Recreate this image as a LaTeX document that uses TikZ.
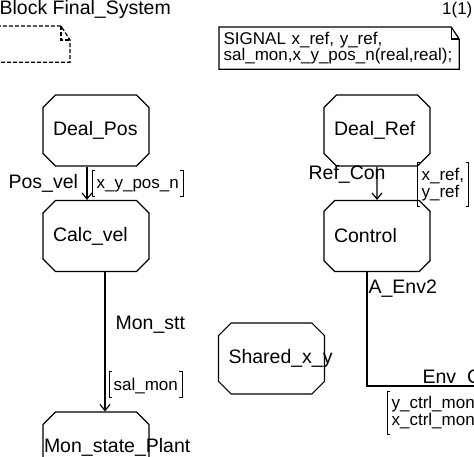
\documentclass[tikz,border=0pt]{standalone}
\usepackage{fontspec}
\setmainfont{Liberation Sans}
\usetikzlibrary{positioning,shapes.misc,arrows.meta}
\newcommand{\blkfont}{\fontsize{19.5}{22}\selectfont}
\newcommand{\sigfont}{\fontsize{17}{16.5}\selectfont}

\begin{document}
\begin{tikzpicture}[x=1pt, y=-1pt, line width=1.2pt,
		% Block styles
		block/.style={chamfered rectangle, chamfered rectangle xsep=10pt, draw=black,
			minimum width=106pt, minimum height=71pt, inner sep=0pt, text width=86pt,
			align=left, font=\blkfont},
		% Channel styles
		channel/.style={-{Straight Barb[length=6pt, width=10pt]}},
		% Text styles
		chlabel/.style={font=\blkfont, inner sep=0pt, anchor=base west},
		siglist/.style={font=\sigfont, inner xsep=4pt, inner ysep=5pt, align=left},
		decl/.style={font=\sigfont, inner xsep=4pt, inner ysep=1pt, align=left, anchor=north west},
		bracket/.style={line width=1pt}
		]
		
		\useasboundingbox (0,0) rectangle (474,457);
		\clip (0,0) rectangle (474,457);
		
		% Header
		\node[chlabel] (title) at (-1,15) {Block Final\_System};
		\node[font=\sigfont, inner sep=0pt, anchor=base east] (page) at (473,15) {1(1)};
		
		% Comment and declaration
		\node[inner sep=0pt, minimum width=90pt, minimum height=35pt, anchor=north east] (comment) at (70,26) {};
		\draw[dash pattern=on 4pt off 2pt] (comment.north west) -- ([xshift=-9pt]comment.north east)
			-- ([yshift=-14pt]comment.north east) -- (comment.south east) -- (comment.south west);
		\draw[dash pattern=on 4pt off 2pt] ([xshift=-9pt]comment.north east) |- ([yshift=-14pt]comment.north east);
		
		\node[decl, text width=231pt, minimum height=41pt] (sigdecl) at (219,27)
			{SIGNAL x\_ref, y\_ref,\\sal\_mon,x\_y\_pos\_n(real,real);};
		\draw (sigdecl.north west) -- ([xshift=-8pt]sigdecl.north east)
			-- ([yshift=-12pt]sigdecl.north east) -- (sigdecl.south east) -- (sigdecl.south west) -- cycle;
		\draw ([xshift=-8pt]sigdecl.north east) |- ([yshift=-12pt]sigdecl.north east);
		
		% Blocks
		\node[block] (dealpos) at (96,130.5) {Deal\_Pos};
		\node[block] (calcvel) at (96,236) {Calc\_vel};
		\node[block] (monstate) at (96,447.5) {\hspace*{-9pt}Mon\_state\_Plant};
		\node[block] (shared) at (271.5,358.5) {Shared\_x\_y};
		\node[block] (dealref) at (377,130.5) {Deal\_Ref};
		\node[block] (control) at (377,236) {Control};
		\coordinate (envc) at (490,386);
		
		% Channels
		\draw[channel] ([xshift=-9pt]dealpos.south) -- ([xshift=-9pt]calcvel.north);
		\draw[channel] ([xshift=9pt]calcvel.south) -- ([xshift=9pt]monstate.north);
		\draw[channel] (dealref) -- (control);
		\draw ([xshift=-10pt]control.south) |- (envc);
		
		% Channel names
		\node[chlabel] (posvel) at (8,189) {Pos\_vel};
		\node[chlabel] (monstt) at (115,329) {Mon\_stt};
		\node[chlabel] (refcon) at (308,180) {Ref\_Con};
		\node[chlabel] (aenv) at (368,293) {A\_Env2};
		\node[chlabel] (envcname) at (422,383) {Env\_C};
		
		% Signal lists
		\node[siglist, text height=13pt, text depth=2pt, anchor=base west] (sl1) at (92,189) {x\_y\_pos\_n};
		\node[siglist, text height=13pt, text depth=2pt, anchor=base west] (sl2) at (109,390) {sal\_mon};
		\node[siglist, anchor=north west] (sl3) at (417,163) {x\_ref,\\y\_ref};
		\node[siglist, anchor=north west] (sl4) at (387,391) {y\_ctrl\_mon,\\x\_ctrl\_mon};
		\foreach \s in {sl1,sl2,sl3,sl4}{
			\draw[bracket] ([xshift=3pt]\s.north west) -- (\s.north west) -- (\s.south west) -- ([xshift=3pt]\s.south west);
			\draw[bracket] ([xshift=-3pt]\s.north east) -- (\s.north east) -- (\s.south east) -- ([xshift=-3pt]\s.south east);
		}
		
	\end{tikzpicture}
\end{document}
